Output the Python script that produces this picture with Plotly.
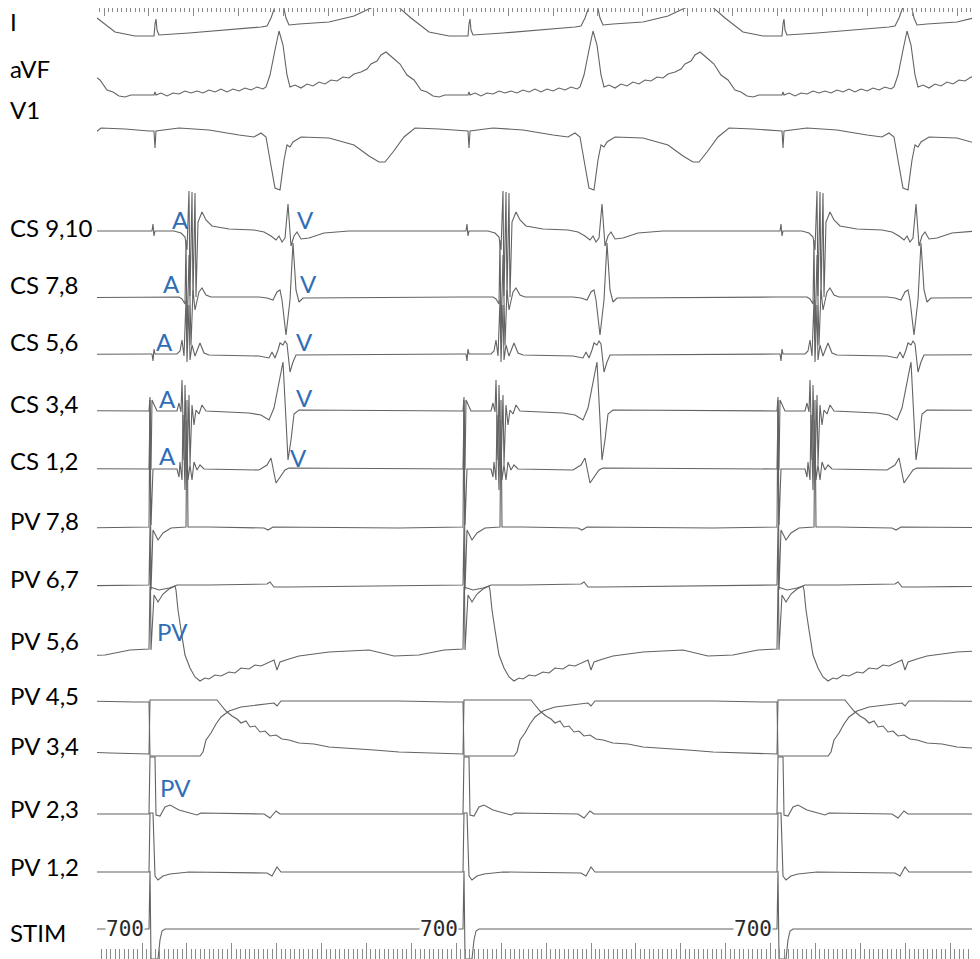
import plotly.graph_objects as go

W, H = 980, 959
PAD = 8                                  # page margin of the html body
X0 = 97                                  # left edge of the recorded strip (px)
ONSETS = [-165, 149, 463, 777, 1091]     # stimulus artifacts, 700 ms apart (px)
STIM_LABEL = "700"

CHANNELS = ["I", "aVF", "V1", "CS 9,10", "CS 7,8", "CS 5,6", "CS 3,4", "CS 1,2",
            "PV 7,8", "PV 6,7", "PV 5,6", "PV 4,5", "PV 3,4", "PV 2,3", "PV 1,2", "STIM"]
BASELINE = [32, 88, 130, 229, 297, 354, 411, 469, 526, 584, 647, 699, 749, 813, 871, 929]
LABEL_Y = [21, 68, 109, 227, 284, 341, 403, 460, 520, 578, 640, 695, 745, 808, 866, 932]

# one paced cycle per channel: offset from stim (px), deflection from baseline (px, + = down)
I_T = [0, 5, 6, 7, 8, 10, 40, 80, 112, 118, 122, 127, 131, 134, 137, 140, 150, 180, 205, 222, 232, 238, 246, 262, 280, 300]
I_DY = [4, 4, -8, -13, -2, 3, 1, -2, -5, -6, -14, -28, -32, -28, -14, -7, -8, -10, -16, -24, -30, -32, -28, -14, 0, 4]

AVF_T = [0, 5, 6, 7, 12, 18, 24, 30, 36, 42, 48, 54, 60, 66, 72, 78, 84, 90, 96, 102, 108, 114, 117, 121,
         126, 130, 134, 138, 141, 146, 152, 158, 164, 170, 176, 182, 188, 194, 200, 205, 212, 218, 222, 228,
         232, 237, 244, 251, 258, 265, 272, 278, 284, 290, 296]
AVF_DY = [7, 7, 4, 7, 5, 8, 5, 6, 3, 5, 3, 5, 2, 4, 1, 4, 1, 3, 0, 2, -1, 1, -1, -13,
          -38, -57, -43, -13, -1, -3, 0, -4, -2, -6, -4, -8, -7, -11, -10, -14, -16, -19, -24, -27,
          -33, -36, -30, -24, -13, -8, 2, 4, 8, 9, 7]

V1_T = [0, 5, 6, 7, 30, 60, 90, 105, 112, 117, 121, 126, 131, 135, 138, 141, 144, 152, 180, 205, 220, 230, 236, 244, 255, 266, 290]
V1_DY = [1, 1, 18, 1, -2, 0, 5, 7, 3, 7, 30, 58, 60, 30, 15, 17, 12, 7, 8, 15, 26, 32, 32, 22, 7, -2, -1]

CS910_T = [0, 3, 4, 5, 6, 25, 32, 36, 38, 40, 41, 43, 44, 46, 47, 49, 53, 57, 63, 80, 105, 115,
           122, 127, 130, 133, 136, 139, 142, 145, 148, 152, 160, 175, 200]
CS910_DY = [2, 2, -5, 7, 2, 2, 4, 8, 21, -38, 67, -37, 69, -36, 68, -7, -17, -9, -3, 0, 1, 3,
            7, 11, 7, 13, 9, -25, 17, 7, 3, 10, 9, 4, 2]

CS78_T = [0, 30, 33, 36, 37, 38, 40, 42, 44, 46, 50, 53, 57, 62, 110, 118, 124, 128, 131, 133,
          137, 141, 144, 147, 150, 154]
CS78_DY = [0, 0, 2, 7, -57, 43, -42, 48, -7, 13, -5, -9, -2, 0, 0, 1, 3, -5, -7, 3,
           38, 3, -54, -7, 5, 1]

CS56_T = [0, 3, 4, 5, 6, 28, 31, 33, 35, 37, 38, 40, 41, 43, 46, 51, 55, 60, 110, 120, 123,
          126, 129, 131, 134, 136, 138, 141, 144, 147]
CS56_DY = [0, 0, 7, -5, 0, 0, -3, -14, 2, -54, 8, -49, 6, -9, 2, -11, -1, 1, 2, 4, -2,
           4, -4, -11, -9, -13, -10, 18, 8, 1]

CS34_T = [0, 1, 2, 3, 5, 8, 28, 30, 32, 33, 35, 36, 38, 40, 41, 43, 45, 47, 50, 53, 57, 100,
          112, 120, 125, 130, 134, 137, 139, 142, 145, 150]
CS34_DY = [0, -14, 59, -11, -7, 0, 0, -8, 1, -31, 49, -26, 59, -16, 54, -6, 14, -1, 3, -6, 0, 2,
           4, 9, -3, -29, -49, 9, 49, 29, 3, -1]

CS12_T = [0, 1, 2, 4, 28, 30, 31, 33, 34, 36, 37, 39, 41, 43, 45, 48, 51, 55, 110, 118, 122,
          127, 132, 136, 140]
CS12_DY = [0, -59, 56, 0, 0, 8, -7, 11, -54, 21, -49, 11, -4, 11, -7, 1, -4, 0, 1, -4, -11,
           14, 7, 1, -1]

PV78_T = [0, 1, 2, 4, 9, 14, 22, 37, 38, 39, 60, 115, 119, 124, 250]
PV78_DY = [1, -126, 64, 4, 14, 7, 2, 1, -126, 1, 1, 2, 4, 1, 2]

PV67_T = [0, 1, 2, 5, 9, 14, 20, 26, 28, 60, 118, 121, 125, 140, 250]
PV67_DY = [1, -57, 66, 11, 18, 10, 5, 2, 1, 1, 0, -2, 3, 3, 2]

PV56_T = [0, 1, 10, 20, 26, 27, 29, 32, 36, 41, 46, 51, 56, 60, 66, 72, 80, 86, 92, 100, 106,
          112, 118, 125, 128, 131, 140, 150, 165, 180, 200, 220, 245, 270, 295]
PV56_DY = [2, -60, -57, -59, -61, -57, -37, -17, 8, 21, 30, 34, 31, 32, 28, 29, 25, 26, 21, 22, 18,
           19, 16, 13, 23, 15, 12, 9, 7, 5, 4, 3, 9, 8, 3]

PV45_T = [0, 1, 68, 72, 77, 83, 88, 92, 97, 101, 106, 111, 116, 121, 127, 133, 140, 150, 165,
          180, 200, 225, 250, 275, 300]
PV45_DY = [55, 1, 1, 6, 12, 17, 20, 24, 22, 28, 27, 33, 32, 37, 36, 40, 41, 44, 45, 48, 49, 51, 53, 54, 55]

PV34_T = [0, 1, 51, 54, 57, 62, 67, 72, 80, 92, 110, 125, 128, 132, 160, 250, 300]
PV34_DY = [-47, 7, 7, 3, -9, -16, -25, -32, -38, -42, -44, -46, -43, -48, -48, -48, -47]

PV23_T = [0, 1, 6, 7, 11, 16, 21, 30, 41, 48, 52, 115, 121, 127, 131, 300]
PV23_DY = [1, -56, -56, 2, 3, -6, -8, -3, 0, 2, 0, 1, 5, -2, 1, 1]

PV12_T = [0, 1, 4, 6, 9, 14, 21, 40, 118, 123, 128, 132, 300]
PV12_DY = [1, -58, -58, 5, 9, 5, 3, 1, 2, 5, -4, 1, 1]

STIM_T = [0, 1, 2, 9, 11, 13, 16]
STIM_DY = [0, -58, 30, 30, 11, 2, 0]

TEMPLATES = {
    "I": (I_T, I_DY), "aVF": (AVF_T, AVF_DY), "V1": (V1_T, V1_DY),
    "CS 9,10": (CS910_T, CS910_DY), "CS 7,8": (CS78_T, CS78_DY), "CS 5,6": (CS56_T, CS56_DY),
    "CS 3,4": (CS34_T, CS34_DY), "CS 1,2": (CS12_T, CS12_DY),
    "PV 7,8": (PV78_T, PV78_DY), "PV 6,7": (PV67_T, PV67_DY), "PV 5,6": (PV56_T, PV56_DY),
    "PV 4,5": (PV45_T, PV45_DY), "PV 3,4": (PV34_T, PV34_DY), "PV 2,3": (PV23_T, PV23_DY),
    "PV 1,2": (PV12_T, PV12_DY), "STIM": (STIM_T, STIM_DY),
}

# blue markers of atrial (A), ventricular (V) and pulmonary vein (PV) potentials
MARK_TEXT = ["A"] * 5 + ["V"] * 5 + ["PV"] * 2
MARK_X = [180, 171, 164, 167, 167, 305, 308, 304, 304, 298, 172, 175]
MARK_Y = [219, 283, 341, 398, 455, 219, 283, 341, 397, 457, 631, 787]

TRACE_COLOR = "#636363"
RULER_COLOR = "#8a8a8a"
BLUE = "#2f6db5"
SURFACE = {"I", "aVF", "V1"}

FW, FH = W - PAD, H - PAD               # figure size inside the page margin

fig = go.Figure()

for name, base in zip(CHANNELS, BASELINE):
    t_list, dy_list = TEMPLATES[name]
    xs, ys = [], []
    for s in ONSETS:
        xs += [s + t for t in t_list]
        ys += [base + d for d in dy_list]
    fig.add_trace(go.Scatter(
        x=xs, y=ys, mode="lines",
        line=dict(color=TRACE_COLOR, width=1.1),
        xaxis="x2" if name in SURFACE else "x",
        hoverinfo="skip", showlegend=False,
    ))

annotations = []
for name, ly in zip(CHANNELS, LABEL_Y):
    annotations.append(dict(
        x=0, xref="paper", xanchor="left", y=ly, yref="y", yanchor="middle",
        text=name, showarrow=False, font=dict(family="Lato", size=24, color="black"),
    ))
for txt, mx, my in zip(MARK_TEXT, MARK_X, MARK_Y):
    annotations.append(dict(
        x=mx, xref="x", y=my, yref="y", xanchor="center", yanchor="middle",
        text=txt, showarrow=False, font=dict(family="Lato", size=24, color=BLUE),
    ))
for s in ONSETS:
    if X0 < s < W:
        annotations.append(dict(
            x=s - 4, xref="x", y=BASELINE[-1], yref="y", xanchor="right", yanchor="middle",
            text=STIM_LABEL, showarrow=False, bgcolor="white", borderpad=0,
            font=dict(family="DejaVu Sans Mono", size=21, color="#2a2a2a"),
        ))

ruler = dict(
    showgrid=False, zeroline=False, showticklabels=False, showline=False,
    ticks="inside", tickcolor=RULER_COLOR, tickwidth=1, dtick=44.9,
)

fig.update_layout(
    width=FW, height=FH,
    margin=dict(l=0, r=0, t=0, b=0),
    paper_bgcolor="white", plot_bgcolor="white",
    showlegend=False,
    xaxis=dict(
        domain=[(X0 - PAD) / FW, 1], range=[X0, W], tick0=142, ticklen=16,
        minor=dict(ticks="inside", ticklen=10, tick0=142, dtick=4.49,
                   tickcolor=RULER_COLOR, tickwidth=1, showgrid=False),
        **ruler,
    ),
    xaxis2=dict(
        overlaying="x", side="top", range=[X0, W], tick0=104, ticklen=8,
        minor=dict(ticks="inside", ticklen=4, tick0=104, dtick=4.49,
                   tickcolor=RULER_COLOR, tickwidth=1, showgrid=False),
        **ruler,
    ),
    yaxis=dict(range=[H, PAD], visible=False),
    annotations=annotations,
)

fig.write_html("out.html")
